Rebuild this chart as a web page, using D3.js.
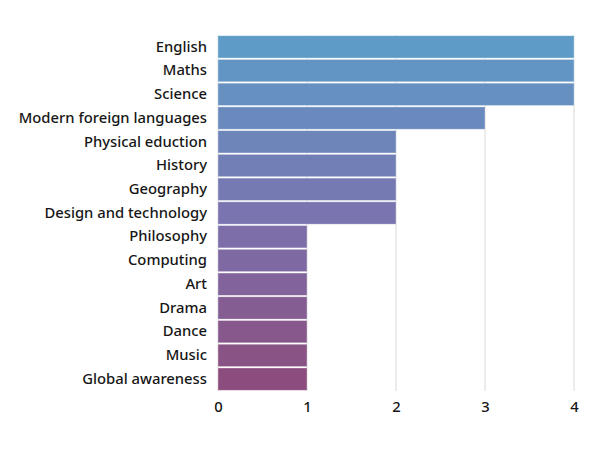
<!DOCTYPE html>
<html><head><meta charset="utf-8">
<script src="https://cdn.jsdelivr.net/npm/d3@7"></script>
<style>body{margin:0;background:#fff;} text{font-family:"Noto Sans",sans-serif;}</style>
</head><body><svg id="c" width="600" height="450"></svg>
<script>
const categories = ["English","Maths","Science","Modern foreign languages","Physical eduction","History","Geography","Design and technology","Philosophy","Computing","Art","Drama","Dance","Music","Global awareness"];
const values = [4,4,4,3,2,2,2,2,1,1,1,1,1,1,1];
const xTicks = [0,1,2,3,4];

const svg = d3.select("#c");
const m = {left:218, right:26, top:35, bottom:59};
const W = 600, H = 450;
const x = d3.scaleLinear().domain([0,4]).range([m.left, W-m.right]);
const y = d3.scaleBand().domain(categories).range([m.top, H-m.bottom]).paddingInner(0.06).paddingOuter(0.03);
const n = categories.length - 1;
const color = d3.scaleLinear().domain([0, 7, n]).range(["#5e9bc7","#7a74b0","#8c4d7e"]).interpolate(d3.interpolateRgb);

svg.append("g").selectAll("line").data(xTicks).join("line")
  .attr("x1", d=>x(d)).attr("x2", d=>x(d))
  .attr("y1", m.top).attr("y2", H-m.bottom)
  .attr("stroke", "#e0e0e0").attr("stroke-width", 1.2);

svg.append("g").selectAll("rect").data(categories).join("rect")
  .attr("x", x(0)).attr("y", d=>y(d))
  .attr("width", (d,i)=>x(values[i])-x(0))
  .attr("height", y.bandwidth())
  .attr("fill", (d,i)=>color(i))
  .attr("stroke", "#ffffff").attr("stroke-opacity",0.4).attr("stroke-width",0.8);

const font = "'Noto Sans',sans-serif";
const yAxis = d3.axisLeft(y).tickSize(0).tickPadding(11);
const gy = svg.append("g").attr("transform", `translate(${x(0)},0)`).call(yAxis);
gy.select(".domain").remove();
gy.selectAll("text").attr("font-size", 14.8).attr("font-weight", 500).attr("fill", "#161616").style("font-family", font);

const xAxis = d3.axisBottom(x).tickValues(xTicks).tickFormat(d3.format("d")).tickSize(0).tickPadding(10);
const gx = svg.append("g").attr("transform", `translate(0,${H-m.bottom})`).call(xAxis);
gx.select(".domain").remove();
gx.selectAll("text").attr("font-size", 14.8).attr("font-weight", 500).attr("fill", "#161616").style("font-family", font);
</script></body></html>
